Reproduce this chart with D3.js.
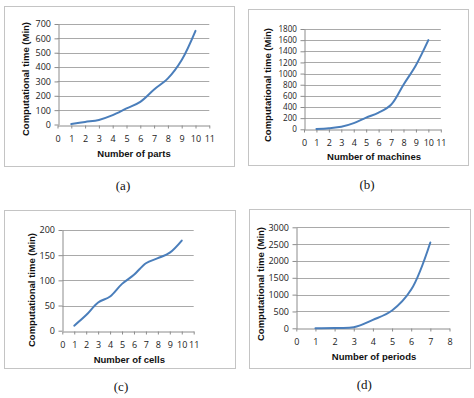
<!DOCTYPE html>
<html>
<head>
<meta charset="utf-8">
<script src="https://cdn.jsdelivr.net/npm/d3@7"></script>
<style>
  body { margin: 0; background: #fff; }
  svg { display: block; }
</style>
</head>
<body>
<div id="fig"></div>
<script>
// ---------------------------------------------------------------
// data
var partsX = [1, 2, 3, 4, 5, 6, 7, 8, 9, 10];
var partsTime = [3, 18, 32, 65, 112, 158, 244, 321, 449, 652];
var partsYTicks = [0, 100, 200, 300, 400, 500, 600, 700];
var partsXTicks = [0, 1, 2, 3, 4, 5, 6, 7, 8, 9, 10, 11];

var machinesX = [1, 2, 3, 4, 5, 6, 7, 8, 9, 10];
var machinesTime = [5, 20, 45, 110, 210, 300, 440, 800, 1150, 1600];
var machinesYTicks = [0, 200, 400, 600, 800, 1000, 1200, 1400, 1600, 1800];
var machinesXTicks = [0, 1, 2, 3, 4, 5, 6, 7, 8, 9, 10, 11];

var cellsX = [1, 2, 3, 4, 5, 6, 7, 8, 9, 10];
var cellsTime = [10, 31, 56, 68, 93, 111, 134, 144, 155, 179];
var cellsYTicks = [0, 50, 100, 150, 200];
var cellsXTicks = [0, 1, 2, 3, 4, 5, 6, 7, 8, 9, 10, 11];

var periodsX = [1, 2, 3, 4, 5, 6, 7];
var periodsTime = [5, 10, 30, 250, 530, 1150, 2550];
var periodsYTicks = [0, 500, 1000, 1500, 2000, 2500, 3000];
var periodsXTicks = [0, 1, 2, 3, 4, 5, 6, 7, 8];

var yTitle = "Computational time (Min)";

// ---------------------------------------------------------------
// the svg
var largeur = 474, hauteur = 398;
var svg = d3.select("#fig")
  .append("svg")
  .attr("width", largeur)
  .attr("height", hauteur);

// one panel = one small excel-like chart
var panels = [
  { xs: partsX, ys: partsTime, yt: partsYTicks, xt: partsXTicks, xlab: "Number of parts", cap: "(a)",
    frame: [4, 6, 234, 166], px: [57.5, 209.3], py: [124.5, 24], yfs: 9,
    xtitle: [134, 154], ytitle: [26, 79], capPos: [123, 185] },
  { xs: machinesX, ys: machinesTime, yt: machinesYTicks, xt: machinesXTicks, xlab: "Number of machines", cap: "(b)",
    frame: [248, 9, 468, 165], px: [304, 440.8], py: [129.3, 29], yfs: 8.1,
    xtitle: [374, 157], ytitle: [268, 85], capPos: [367, 184] },
  { xs: cellsX, ys: cellsTime, yt: cellsYTicks, xt: cellsXTicks, xlab: "Number of cells", cap: "(c)",
    frame: [4, 210, 235, 368], px: [62.3, 193.7], py: [330.7, 230], yfs: 9,
    xtitle: [129.3, 359.3], ytitle: [31.7, 290], capPos: [121, 386] },
  { xs: periodsX, ys: periodsTime, yt: periodsYTicks, xt: periodsXTicks, xlab: "Number of periods", cap: "(d)",
    frame: [249, 209, 470, 368], px: [296.3, 449.5], py: [328.3, 227.3], yfs: 9,
    xtitle: [374, 356.7], ytitle: [260.3, 284], capPos: [364.3, 384] }
];

function drawPanel(p) {
  var g = svg.append("g");

  // cadre
  g.append("rect")
    .attr("x", p.frame[0] + 0.5).attr("y", p.frame[1] + 0.5)
    .attr("width", p.frame[2] - p.frame[0]).attr("height", p.frame[3] - p.frame[1])
    .attr("fill", "#fff").attr("stroke", "#c4c4c4").attr("stroke-width", 1);

  var x = d3.scaleLinear()
    .domain([0, p.xt[p.xt.length - 1]])
    .range(p.px);
  var y = d3.scaleLinear()
    .domain([0, p.yt[p.yt.length - 1]])
    .range(p.py);

  // horizontal gridlines
  g.selectAll(".grid")
    .data(p.yt.slice(1))
    .enter().append("line")
    .attr("x1", p.px[0]).attr("x2", p.px[1])
    .attr("y1", function(d) { return Math.round(y(d)) + 0.5; })
    .attr("y2", function(d) { return Math.round(y(d)) + 0.5; })
    .attr("stroke", "#a9a9a9").attr("stroke-width", 1);

  var yAxis = g.append("g")
    .attr("transform", "translate(" + (Math.round(p.px[0]) + 0.5) + ",0)")
    .call(d3.axisLeft(y).tickValues(p.yt).tickFormat(d3.format("d"))
      .tickSize(4).tickPadding(3.5).tickSizeOuter(0));
  var xAxis = g.append("g")
    .attr("transform", "translate(0," + (Math.round(p.py[0]) + 0.5) + ")")
    .call(d3.axisBottom(x).tickValues(p.xt).tickFormat(d3.format("d"))
      .tickSize(3).tickPadding(7).tickSizeOuter(0));

  [yAxis, xAxis].forEach(function(a) {
    a.select(".domain").attr("stroke", "#8c8c8c");
    a.selectAll(".tick line").attr("stroke", "#8c8c8c");
    a.selectAll("text")
      .attr("fill", "#222")
      .style("font-family", "'Open Sans', sans-serif")
      .style("font-size", "9px");
  });
  // tight tick spacing on some panels
  yAxis.selectAll("text").style("font-size", p.yfs + "px");

  // the smoothed series
  var ligne = d3.line()
    .x(function(d, i) { return x(p.xs[i]); })
    .y(function(d) { return y(d); })
    .curve(d3.curveCatmullRom.alpha(0.5));
  g.append("path")
    .datum(p.ys)
    .attr("d", ligne)
    .attr("fill", "none")
    .attr("stroke", "#4a7ebb")
    .attr("stroke-width", 2)
    .attr("stroke-linecap", "round");

  // titres
  g.append("text")
    .attr("x", p.xtitle[0]).attr("y", p.xtitle[1])
    .attr("dy", "0.35em")
    .attr("text-anchor", "middle")
    .style("font-family", "'Liberation Sans', Arial, sans-serif")
    .style("font-weight", "bold")
    .style("font-size", "9.5px")
    .attr("fill", "#111")
    .text(p.xlab);
  g.append("text")
    .attr("transform", "translate(" + p.ytitle[0] + "," + p.ytitle[1] + ") rotate(-90)")
    .attr("dy", "0.35em")
    .attr("text-anchor", "middle")
    .style("font-family", "'Liberation Sans', Arial, sans-serif")
    .style("font-weight", "bold")
    .style("font-size", "9.5px")
    .attr("fill", "#111")
    .text(yTitle);

  // legende (a) (b) ...
  g.append("text")
    .attr("x", p.capPos[0]).attr("y", p.capPos[1])
    .attr("dy", "0.35em")
    .attr("text-anchor", "middle")
    .style("font-family", "'Liberation Serif', 'Times New Roman', serif")
    .style("font-size", "13px")
    .attr("fill", "#111")
    .text(p.cap);
}

panels.forEach(drawPanel);
</script>
</body>
</html>
